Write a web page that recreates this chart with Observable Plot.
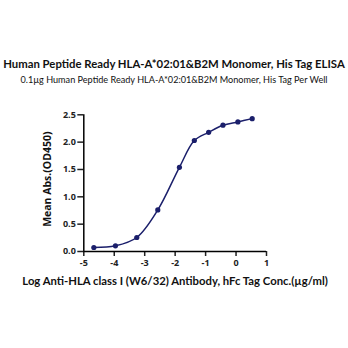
<!DOCTYPE html>
<html><head><meta charset="utf-8">
<script src="https://cdn.jsdelivr.net/npm/d3@7"></script>
<script src="https://cdn.jsdelivr.net/npm/@observablehq/plot@0.6"></script>
<style>
body{margin:0;background:#fff;font-family:Lato,"Open Sans",sans-serif;}
#wrap{width:348px;height:348px;overflow:hidden;}
.t{ text-align:center; color:#111; white-space:nowrap;}
.t span{display:inline-block;}
#title{padding-top:57px;font-size:11px;font-weight:bold;line-height:14px;height:14px;}
#sub{margin-top:3px;font-size:9.3px;line-height:12px;height:12px;}
svg{display:block;}
svg text{font-weight:bold !important;}
</style></head>
<body><div id="wrap">
<div id="title" class="t"><span>Human Peptide Ready HLA-A*02:01&amp;B2M Monomer, His Tag ELISA</span></div>
<div id="sub" class="t"><span>0.1µg Human Peptide Ready HLA-A*02:01&amp;B2M Monomer, His Tag Per Well</span></div>
<div id="chart"></div>
</div>
<script>
const logConc = [-4.67, -3.96, -3.26, -2.57, -1.86, -1.37, -0.90, -0.43, 0.06, 0.53];
const od450   = [0.073, 0.104, 0.256, 0.76, 1.54, 2.03, 2.18, 2.31, 2.37, 2.43];
const xTicks = [-5, -4, -3, -2, -1, 0, 1];
const yTicks = [0, 0.5, 1.0, 1.5, 2.0, 2.5];
const data = logConc.map((x, i) => ({x, y: od450[i]}));
const navy = "#1b1f6b";
function fit(id, w) {
  const el = document.querySelector("#" + id);
  const sp = el.querySelector("span");
  const fs = parseFloat(getComputedStyle(el).fontSize);
  el.style.fontSize = (fs * w / sp.getBoundingClientRect().width) + "px";
}
fit("title", 342);
fit("sub", 307);
const plot = Plot.plot({
  width: 348, height: 262,
  marginTop: 28.3, marginBottom: 97, marginLeft: 83.3, marginRight: 82,
  style: {fontFamily: "'Open Sans', sans-serif", fontSize: "9px", fontWeight: "bold", color: "#222"},
  x: {domain: [-5, 1]},
  y: {domain: [0, 2.5]},
  marks: [
    Plot.axisX({ticks: xTicks, tickFormat: d => d < 0 ? "-" + Math.abs(d) : String(d), tickSize: 5, tickPadding: 3, strokeWidth: 1.5, label: null}),
    Plot.axisY({ticks: yTicks, tickFormat: d3.format(".1f"), tickSize: 6, tickPadding: 2, strokeWidth: 1.5, label: null}),
    Plot.ruleY([0], {stroke: "#000", strokeWidth: 1.5}),
    Plot.ruleX([-5], {stroke: "#000", strokeWidth: 1.5}),
    Plot.line(data, {x: "x", y: "y", curve: "catmull-rom", stroke: navy, strokeWidth: 1.5}),
    Plot.dot(data, {x: "x", y: "y", r: 2.6, fill: navy, stroke: "none"}),
    Plot.text(["Log Anti-HLA class I (W6/32) Antibody, hFc Tag Conc.(µg/ml)"], {frameAnchor: "bottom", dy: 33, text: d => d, fontSize: 11.3, fontFamily: "Lato, sans-serif", fontWeight: "bold", fill: "#111"}),
    Plot.text(["Mean Abs.(OD450)"], {frameAnchor: "left", textAnchor: "middle", dx: -36, dy: -4, rotate: -90, text: d => d, fontSize: 10.5, fontWeight: "bold", fill: "#111"})
  ]
});
document.getElementById("chart").appendChild(plot);
</script>
</body></html>
